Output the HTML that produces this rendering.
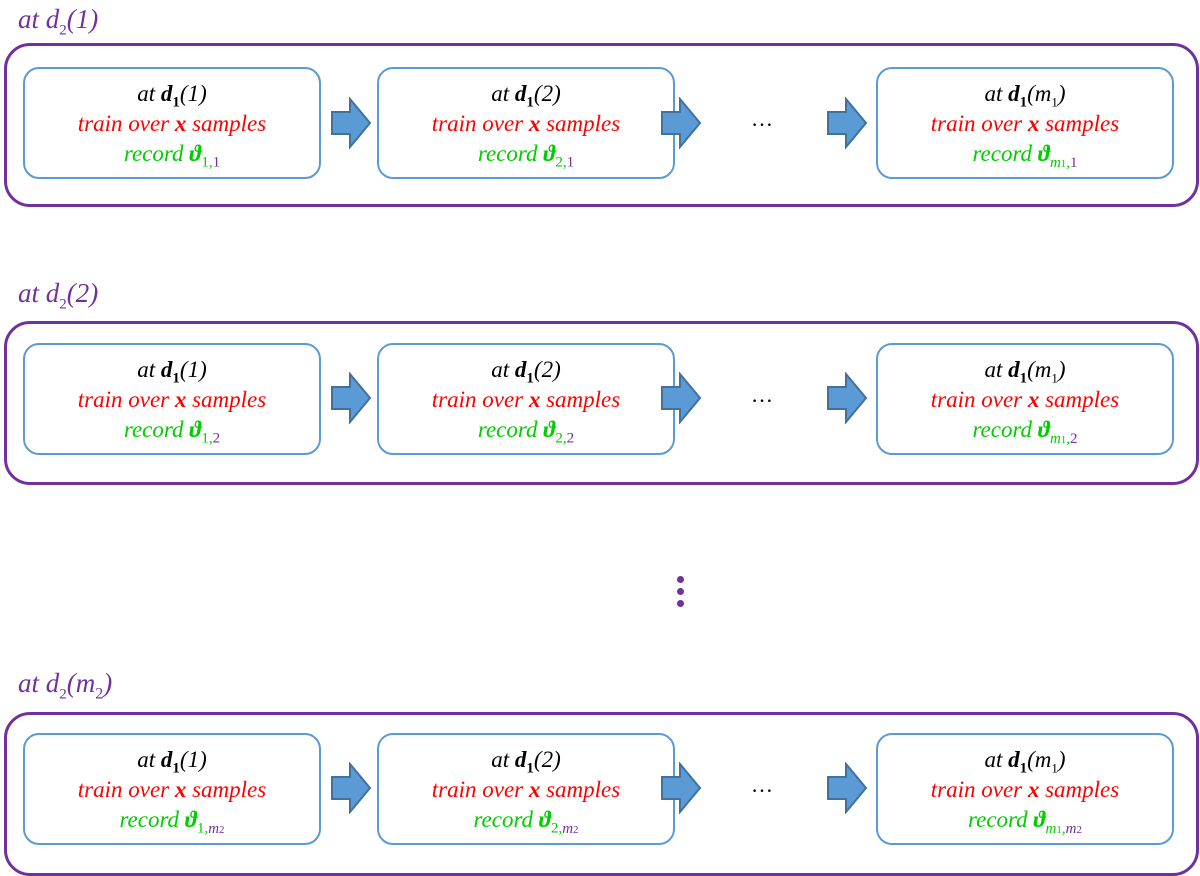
<!DOCTYPE html>
<html><head><meta charset="utf-8"><style>
body{margin:0;width:1200px;height:875px;background:#fff;position:relative;overflow:hidden;font-family:"Liberation Serif",serif;}
.outer{position:absolute;left:4px;width:1189px;height:158px;border:3px solid #7030A0;border-radius:26px;}
.lbl{position:absolute;left:18px;font-style:italic;color:#7030A0;font-size:27px;line-height:30px;}
.box{position:absolute;width:298px;height:112px;border:2.5px solid #5B9BD5;border-radius:16px;text-align:center;font-style:italic;font-size:23px;line-height:30px;box-sizing:border-box;padding-top:10px;background:#fff;}
.k{color:#000}.r{color:#f00}.g{color:#00cc00}.p{color:#7030A0}
b{font-weight:bold}
sub{font-size:15px;line-height:0;font-style:italic}
.dots{position:absolute;font-size:22px;color:#000}
svg.arr{position:absolute;width:44px;height:52px}
.vd{position:absolute;left:677px;width:7px;height:7px;border-radius:50%;background:#7030A0}
</style></head><body>

<!-- group 1 -->
<div class="lbl" style="top:4px">at d<sub style="font-style:normal">2</sub>(1)</div>
<div class="outer" style="top:43px"></div>
<div class="box" style="left:23px;top:67px"><div class="k">at <b>d</b><sub style="font-style:normal"><b>1</b></sub>(1)</div><div class="r">train over <b>x</b> samples</div><div class="g">record <b>ϑ</b><sub class="g" style="font-style:normal">1,<span class="p">1</span></sub></div></div>
<div class="box" style="left:377px;top:67px"><div class="k">at <b>d</b><sub style="font-style:normal"><b>1</b></sub>(2)</div><div class="r">train over <b>x</b> samples</div><div class="g">record <b>ϑ</b><sub class="g" style="font-style:normal">2,<span class="p">1</span></sub></div></div>
<div class="box" style="left:876px;top:67px"><div class="k">at <b>d</b><sub style="font-style:normal"><b>1</b></sub>(m<sub style="font-style:normal;font-size:13px">1</sub>)</div><div class="r">train over <b>x</b> samples</div><div class="g">record <b>ϑ</b><sub class="g">m<span style="font-size:11px;font-style:normal">1</span>,<span class="p" style="font-style:normal">1</span></sub></div></div>

<!-- group 2 -->
<div class="lbl" style="top:278px">at d<sub style="font-style:normal">2</sub>(2)</div>
<div class="outer" style="top:321px"></div>
<div class="box" style="left:23px;top:343px"><div class="k">at <b>d</b><sub style="font-style:normal"><b>1</b></sub>(1)</div><div class="r">train over <b>x</b> samples</div><div class="g">record <b>ϑ</b><sub class="g" style="font-style:normal">1,<span class="p">2</span></sub></div></div>
<div class="box" style="left:377px;top:343px"><div class="k">at <b>d</b><sub style="font-style:normal"><b>1</b></sub>(2)</div><div class="r">train over <b>x</b> samples</div><div class="g">record <b>ϑ</b><sub class="g" style="font-style:normal">2,<span class="p">2</span></sub></div></div>
<div class="box" style="left:876px;top:343px"><div class="k">at <b>d</b><sub style="font-style:normal"><b>1</b></sub>(m<sub style="font-style:normal;font-size:13px">1</sub>)</div><div class="r">train over <b>x</b> samples</div><div class="g">record <b>ϑ</b><sub class="g">m<span style="font-size:11px;font-style:normal">1</span>,<span class="p" style="font-style:normal">2</span></sub></div></div>

<!-- group 3 -->
<div class="lbl" style="top:668px">at d<sub style="font-style:normal">2</sub>(m<sub style="font-style:normal;font-size:16px">2</sub>)</div>
<div class="outer" style="top:712px"></div>
<div class="box" style="left:23px;top:733px"><div class="k">at <b>d</b><sub style="font-style:normal"><b>1</b></sub>(1)</div><div class="r">train over <b>x</b> samples</div><div class="g">record <b>ϑ</b><sub class="g" style="font-style:normal">1,<span class="p"><i>m</i><span style="font-size:11px">2</span></span></sub></div></div>
<div class="box" style="left:377px;top:733px"><div class="k">at <b>d</b><sub style="font-style:normal"><b>1</b></sub>(2)</div><div class="r">train over <b>x</b> samples</div><div class="g">record <b>ϑ</b><sub class="g" style="font-style:normal">2,<span class="p"><i>m</i><span style="font-size:11px">2</span></span></sub></div></div>
<div class="box" style="left:876px;top:733px"><div class="k">at <b>d</b><sub style="font-style:normal"><b>1</b></sub>(m<sub style="font-style:normal;font-size:13px">1</sub>)</div><div class="r">train over <b>x</b> samples</div><div class="g">record <b>ϑ</b><sub class="g">m<span style="font-size:11px;font-style:normal">1</span>,<span class="p">m<span style="font-size:11px;font-style:normal">2</span></span></sub></div></div>

<!-- arrows -->
<svg width="0" height="0" style="position:absolute"><defs><polygon id="a" points="2,15 20,15 20,2 40,26 20,50 20,37 2,37" fill="#5B9BD5" stroke="#41719C" stroke-width="2"/></defs></svg>
<svg class="arr" style="left:330px;top:97px"><use href="#a"/></svg>
<svg class="arr" style="left:660px;top:97px"><use href="#a"/></svg>
<svg class="arr" style="left:826px;top:97px"><use href="#a"/></svg>
<svg class="arr" style="left:330px;top:372px"><use href="#a"/></svg>
<svg class="arr" style="left:660px;top:372px"><use href="#a"/></svg>
<svg class="arr" style="left:826px;top:372px"><use href="#a"/></svg>
<svg class="arr" style="left:330px;top:762px"><use href="#a"/></svg>
<svg class="arr" style="left:660px;top:762px"><use href="#a"/></svg>
<svg class="arr" style="left:826px;top:762px"><use href="#a"/></svg>

<div class="dots" style="left:751px;top:106px">…</div>
<div class="dots" style="left:751px;top:382px">…</div>
<div class="dots" style="left:751px;top:772px">…</div>

<div class="vd" style="top:576px"></div>
<div class="vd" style="top:588px"></div>
<div class="vd" style="top:600px"></div>
</body></html>
